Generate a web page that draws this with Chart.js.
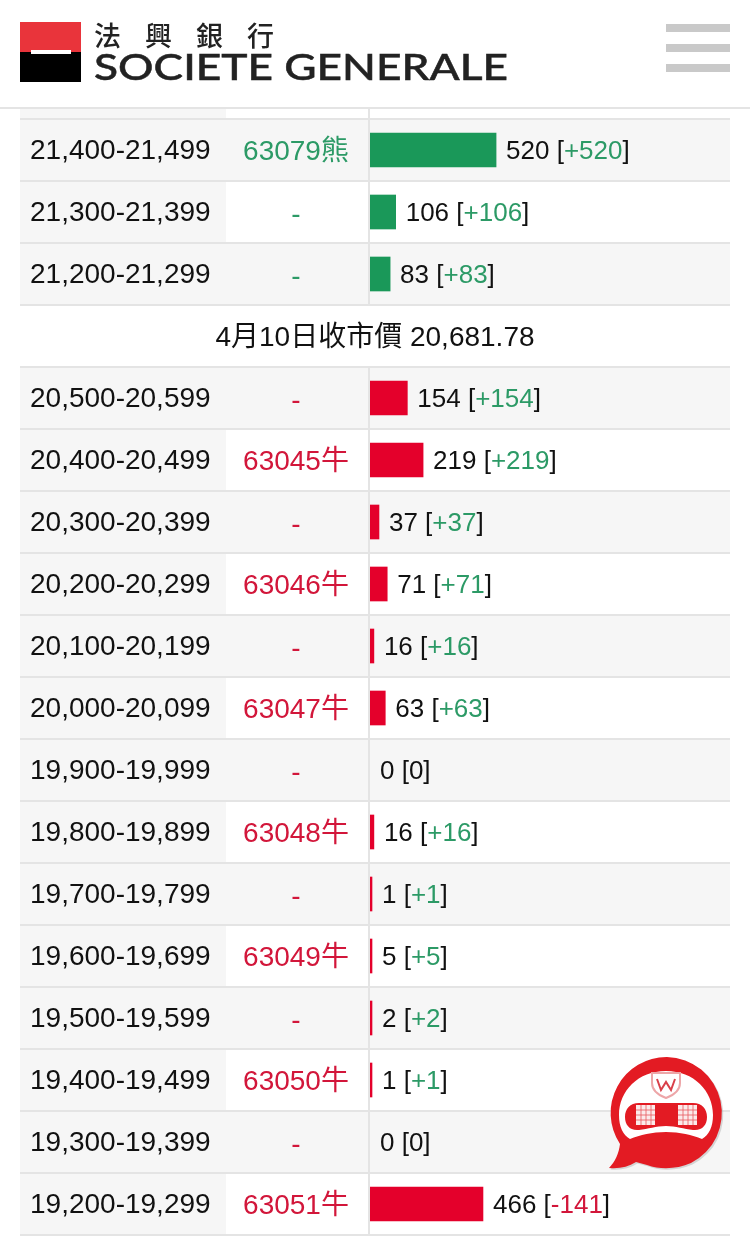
<!DOCTYPE html>
<html>
<head>
<meta charset="utf-8">
<title>牛熊證街貨分佈</title>
<script src="https://cdn.jsdelivr.net/npm/chart.js@4"></script>
<style>
  html, body { margin: 0; padding: 0; background: #fff; }
  body { position: relative; width: 750px; height: 1237px; overflow: hidden; }
  #miChart { position: absolute; left: 0; top: 0; }
  .overlay { position: absolute; left: 0; top: 0; pointer-events: none; }
</style>
</head>
<body>
<canvas id="miChart" width="750" height="1237"></canvas>

<!-- Cabecera: logo y menu -->
<svg class="overlay" width="750" height="108" viewBox="0 0 750 108">
  <rect x="20" y="22" width="61" height="30" fill="#e9343b"/>
  <rect x="20" y="52" width="61" height="30" fill="#000"/>
  <rect x="31" y="50" width="40" height="4" fill="#fff"/>
  <text x="94" y="46" font-family="Noto Sans CJK TC" font-weight="500" font-size="27" fill="#222" textLength="180">法興銀行</text>
  <text x="94" y="80" font-family="Lato, Liberation Sans" font-weight="500" font-size="37" fill="#222" stroke="#222" stroke-width=".5" textLength="414" lengthAdjust="spacingAndGlyphs">SOCIETE GENERALE</text>
  <rect x="666" y="24" width="64" height="8" fill="#c9c9c9"/>
  <rect x="666" y="44" width="64" height="8" fill="#c9c9c9"/>
  <rect x="666" y="64" width="64" height="8" fill="#c9c9c9"/>
</svg>

<!-- Boton flotante -->
<svg class="overlay" width="750" height="1237" viewBox="0 0 750 1237">
  <path d="M667 1057a56 56 0 0 1 24 106c-14 6-30 7-44 2l-11-3c-8 5-17 7-27 6 6-6 10-15 11-24a56 56 0 0 1 47-87z" fill="#aaa" opacity=".45" transform="translate(1.5 1.5)"/>
  <path d="M667 1057a56 56 0 0 1 24 106c-14 6-30 7-44 2l-11-3c-8 5-17 7-27 6 6-6 10-15 11-24a56 56 0 0 1 47-87z" fill="#e31b23"/>
  <path d="M666 1071c28 0 47 20 47 44 0 12-4 20-11 24-10-4-22-7-36-7s-26 3-36 7c-7-4-11-12-11-24 0-24 19-44 47-44z" fill="#fff"/>
  <path d="M652 1073h28v10c0 7-6 12-14 15-8-3-14-8-14-15z" fill="#fff" stroke="#eda6a8" stroke-width="2"/>
  <path d="M657 1079l4 11 5-8 5 8 4-11" fill="none" stroke="#d9404a" stroke-width="2"/>
  <path d="M639 1103h54c9 0 14 6 14 14s-5 14-14 13c-9-1-17-4-27-4s-18 3-27 4c-9 1-14-5-14-13s5-14 14-14z" fill="#e31b23"/>
  <rect x="636" y="1105" width="19" height="20" fill="#fbeaea"/>
  <rect x="678" y="1105" width="19" height="20" fill="#fbeaea"/>
  <path d="M641 1105v20M646 1105v20M651 1105v20M683 1105v20M688 1105v20M693 1105v20M636 1110h19M636 1115h19M636 1120h19M678 1110h19M678 1115h19M678 1120h19" stroke="#e9585e" stroke-width=".8"/>
</svg>

<script>
// Rangos de precio, la fila vacia es la del cierre
const priceRanges = ['21,400-21,499', '21,300-21,399', '21,200-21,299', '',
  '20,500-20,599', '20,400-20,499', '20,300-20,399', '20,200-20,299', '20,100-20,199',
  '20,000-20,099', '19,900-19,999', '19,800-19,899', '19,700-19,799', '19,600-19,699',
  '19,500-19,599', '19,400-19,499', '19,300-19,399', '19,200-19,299'];
const warrants = ['63079熊', '-', '-', '',
  '-', '63045牛', '-', '63046牛', '-', '63047牛', '-', '63048牛', '-', '63049牛', '-', '63050牛', '-', '63051牛'];
const values = [520, 106, 83, null, 154, 219, 37, 71, 16, 63, 0, 16, 1, 5, 2, 1, 0, 466];
const changes = [520, 106, 83, null, 154, 219, 37, 71, 16, 63, 0, 16, 1, 5, 2, 1, 0, -141];
const closeLabel = '4月10日收市價 20,681.78';
const closeRow = 3;

const GREEN = '#1a9859';
const RED = '#e4002b';
const TEXT_GREEN = '#2c9a66';
const TEXT_RED = '#d2163a';
const LINE = '#e4e4e4';
const GREY = '#f6f6f6';

// Fondo de las filas, lineas y textos que Chart.js no pone solo
const tablePlugin = {
  id: 'tablePlugin',
  beforeDraw(chart) {
    const c = chart.ctx;
    const y = chart.scales.y;
    const rowH = y.getPixelForValue(1) - y.getPixelForValue(0);
    c.save();
    // Pedazo de la fila anterior que queda bajo la cabecera
    c.fillStyle = GREY;
    c.fillRect(20, 108, 206, 11);
    priceRanges.forEach((r, i) => {
      const top = y.getPixelForValue(i) - rowH / 2;
      if (i % 2 === 0) {
        c.fillStyle = GREY;
        c.fillRect(20, top, 710, rowH);
      } else if (i !== closeRow) {
        c.fillStyle = GREY;
        c.fillRect(20, top, 206, rowH);
      }
    });
    c.fillStyle = LINE;
    c.fillRect(0, 107, 750, 2);
    // Linea vertical, se corta en la fila del cierre
    const closeTop = y.getPixelForValue(closeRow) - rowH / 2;
    c.fillRect(368, 108, 2, closeTop - 108);
    c.fillRect(368, closeTop + rowH, 2, y.getPixelForValue(priceRanges.length - 1) + rowH / 2 - closeTop - rowH);
    for (let i = 0; i <= priceRanges.length; i++) {
      c.fillRect(20, y.getPixelForValue(0) - rowH / 2 + i * rowH - 1, 710, 2);
    }
    c.restore();
  },
  afterDatasetsDraw(chart) {
    const c = chart.ctx;
    const y = chart.scales.y;
    const bars = chart.getDatasetMeta(0).data;
    c.save();
    c.textBaseline = 'middle';
    // Cierre
    c.font = '28px "Liberation Sans", "Noto Sans CJK TC"';
    c.textAlign = 'center';
    c.fillStyle = '#111';
    c.fillText(closeLabel, 375, y.getPixelForValue(closeRow) + 2);
    // Codigo del warrant
    warrants.forEach((w, i) => {
      c.fillStyle = i < closeRow ? TEXT_GREEN : TEXT_RED;
      c.fillText(w, 296, y.getPixelForValue(i) + (w === '-' ? 3 : 2));
    });
    // Valor y cambio junto a cada barra
    c.font = '26px "Liberation Sans"';
    c.textAlign = 'left';
    values.forEach((v, i) => {
      if (v === null) return;
      const d = changes[i];
      const parts = d === 0
        ? [[v + ' [0]', '#111']]
        : [[v + ' [', '#111'], [(d > 0 ? '+' : '') + d, d > 0 ? TEXT_GREEN : TEXT_RED], [']', '#111']];
      // El cero no tiene barra visible, minBarLength le suma 2px
      let x = bars[i].x + (v === 0 ? 8 : 10);
      parts.forEach(([t, color]) => {
        c.fillStyle = color;
        c.fillText(t, x, bars[i].y + 2);
        x += c.measureText(t).width;
      });
    });
    c.restore();
  }
};

const ctx = document.getElementById('miChart').getContext('2d');
new Chart(ctx, {
  type: 'bar',
  data: {
    labels: priceRanges,
    datasets: [{
      data: values,
      barThickness: 34,
      minBarLength: 2,
      backgroundColor: (p) => p.raw === 0 ? 'transparent' : (p.dataIndex < closeRow ? GREEN : RED)
    }]
  },
  options: {
    indexAxis: 'y',
    responsive: false,
    animation: false,
    layout: { padding: { left: 30, right: 20, top: 119, bottom: 2 } },
    plugins: { legend: { display: false }, tooltip: { enabled: false }, title: { display: false } },
    scales: {
      x: { display: false, min: 0, max: 1485 },
      y: {
        // Sin esto la escala reserva media etiqueta abajo y las filas quedan de 61px
        afterFit(scale) { scale.width = 340; scale.paddingTop = 0; scale.paddingBottom = 0; },
        grid: { display: false },
        border: { display: false },
        ticks: {
          autoSkip: false,
          crossAlign: 'far',
          padding: 0,
          labelOffset: 1,
          color: '#111',
          font: { family: '"Liberation Sans"', size: 28 }
        }
      }
    }
  },
  plugins: [tablePlugin]
});
</script>
</body>
</html>
